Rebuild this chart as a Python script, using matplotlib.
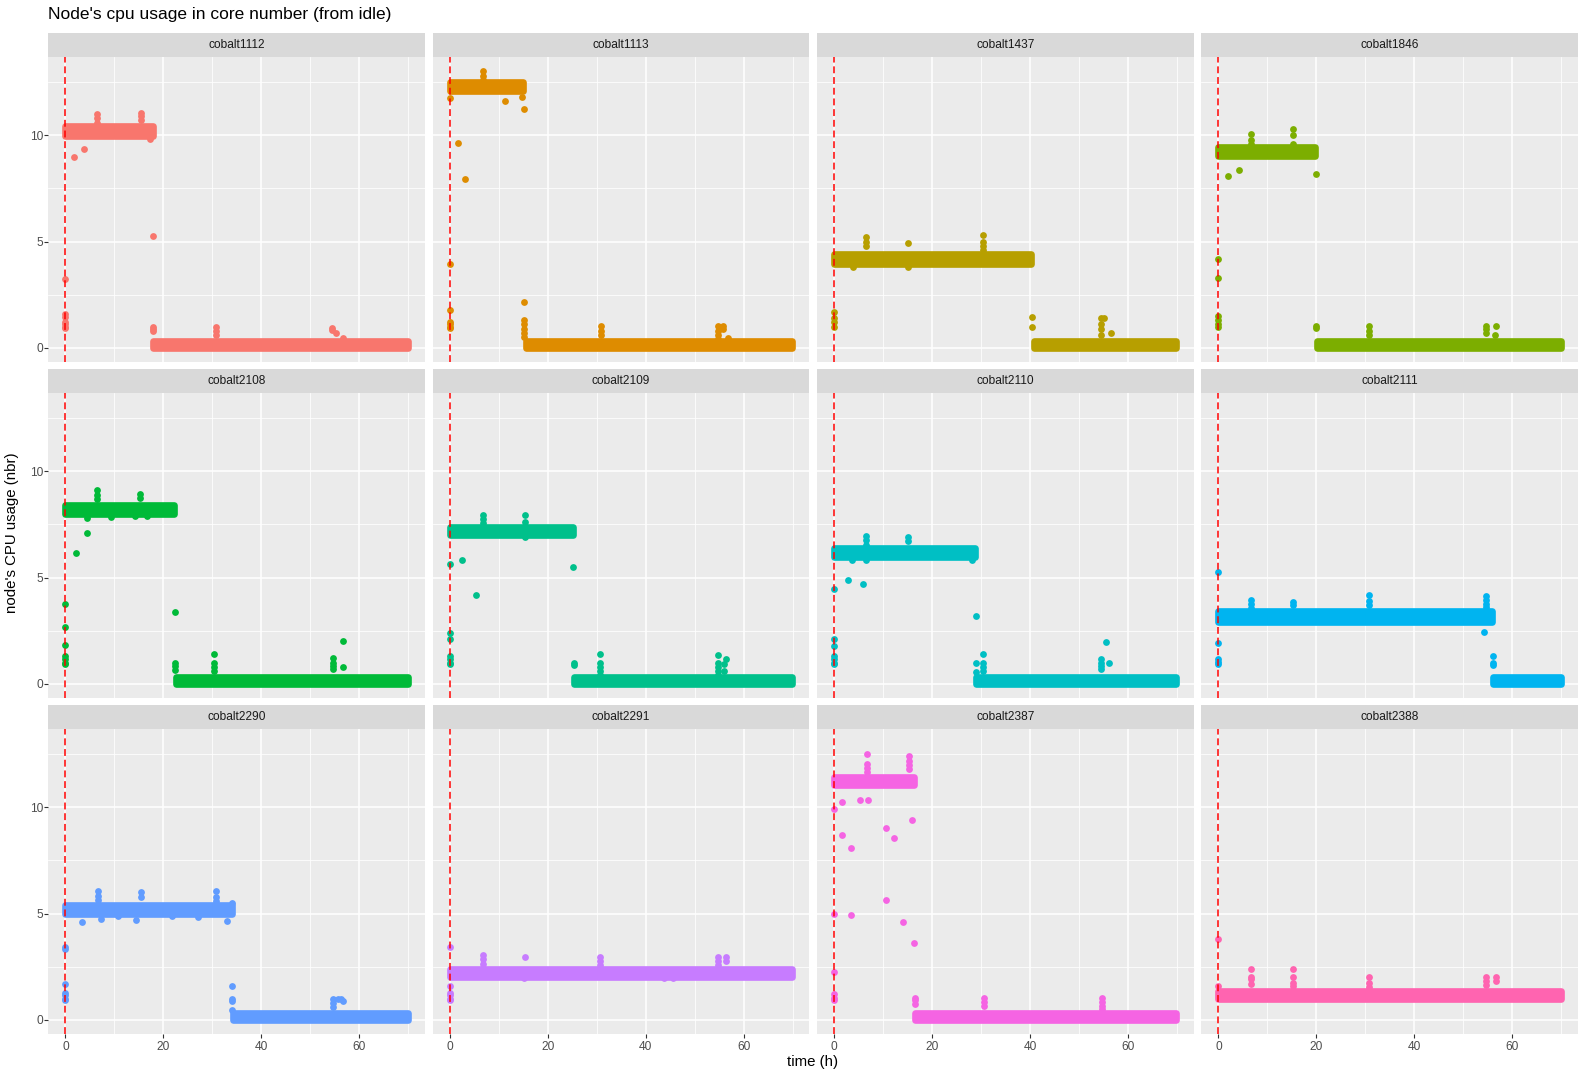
import matplotlib
matplotlib.use("Agg")
import matplotlib.pyplot as plt

# noeuds et couleurs (palette ggplot par défaut, 12 niveaux)
nodes = ["cobalt1112", "cobalt1113", "cobalt1437", "cobalt1846",
         "cobalt2108", "cobalt2109", "cobalt2110", "cobalt2111",
         "cobalt2290", "cobalt2291", "cobalt2387", "cobalt2388"]
colors = ["#F8766D", "#DE8C00", "#B79F00", "#7CAE00", "#00BA38", "#00C08B",
          "#00BFC4", "#00B4F0", "#619CFF", "#C77CFF", "#F564E3", "#FF64B0"]

# bande dense pendant le calcul : début, fin (h), bas, haut (nbr)
busy_start = [0, 0, 0, 0, 0, 0, 0, 0, 0, 0, 0, 0]
busy_end = [17.8, 14.9, 40.2, 19.8, 22.2, 25.2, 28.8, 55.9, 34.0, 69.9, 16.4, 69.9]
busy_low = [9.97, 12.1, 3.96, 9.05, 8.0, 6.99, 5.97, 2.93, 5.0, 2.01, 11.07, 0.99]
busy_high = [10.44, 12.5, 4.42, 9.45, 8.44, 7.37, 6.4, 3.41, 5.4, 2.37, 11.42, 1.35]

# bande dense au repos (None = pas de repos)
idle_start = [17.8, 15.5, 40.8, 20.1, 22.5, 25.3, 29.0, 56.1, 34.3, None, 16.6, None]
idle_end = 69.9
idle_low = 0.0
idle_high = 0.32

# points isolés et pics (temps, cpu)
pts_1112 = [(0, 3.25), (0, 1.6), (0, 1.45), (0, 1.2), (0, 1.1), (0, 1.0), (0, 0.95),
            (1.8, 8.96), (3.8, 9.37), (6.5, 10.6), (6.5, 10.8), (6.5, 11.0),
            (15.5, 10.7), (15.5, 10.9), (15.5, 11.05), (17.2, 9.85), (17.8, 5.27),
            (17.9, 1.0), (17.9, 0.9), (17.9, 0.8), (30.7, 1.0), (30.7, 0.8), (30.7, 0.6),
            (54.5, 0.95), (54.5, 0.85), (55.2, 0.7), (56.6, 0.45)]
pts_1113 = [(0, 3.96), (0, 1.76), (0, 1.2), (0, 1.1), (0, 1.0), (0, 0.94), (0.1, 11.75),
            (1.6, 9.62), (3.2, 7.95), (6.8, 12.6), (6.8, 12.8), (6.8, 13.05),
            (11.3, 11.6), (14.7, 11.8), (15.1, 11.25), (15.1, 2.15), (15.1, 1.3),
            (15.1, 1.1), (15.2, 0.9), (15.2, 0.7), (15.2, 0.5),
            (30.8, 1.05), (30.8, 0.8), (30.8, 0.6), (54.7, 1.05), (54.7, 0.8),
            (54.7, 0.6), (54.7, 0.4), (55.8, 1.05), (55.8, 0.9), (56.8, 0.45)]
pts_1437 = [(0, 1.7), (0, 1.4), (0, 1.2), (0, 1.0), (3.9, 3.8), (6.5, 4.8), (6.5, 5.0),
            (6.5, 5.2), (15.2, 4.95), (15.2, 3.8), (30.5, 4.6), (30.5, 4.8), (30.5, 5.0),
            (30.5, 5.3), (40.5, 1.45), (40.5, 1.0), (54.5, 1.4), (54.5, 1.1), (54.5, 0.9),
            (54.5, 0.6), (55.1, 1.4), (56.6, 0.7)]
pts_1846 = [(0, 4.16), (0, 3.28), (0, 1.5), (0, 1.3), (0, 1.1), (0, 1.0), (2.0, 8.1),
            (4.2, 8.38), (6.7, 9.6), (6.7, 9.8), (6.7, 10.05), (15.3, 9.6), (15.3, 10.0),
            (15.3, 10.3), (19.9, 8.19), (19.9, 1.05), (19.9, 0.95), (30.7, 1.05),
            (30.7, 0.8), (30.7, 0.6), (54.6, 1.05), (54.6, 0.9), (54.6, 0.7),
            (56.4, 0.6), (56.6, 1.05)]
pts_2108 = [(0, 3.78), (0, 2.68), (0, 1.82), (0, 1.3), (0, 1.15), (0, 1.0), (0, 0.95),
            (2.2, 6.17), (4.5, 7.11), (4.5, 7.79), (6.5, 8.7), (6.5, 8.9), (6.5, 9.1),
            (9.3, 7.85), (14.3, 7.9), (15.3, 8.75), (15.3, 8.95), (16.6, 7.9),
            (22.3, 3.36), (22.3, 1.0), (22.3, 0.85), (22.3, 0.64), (30.4, 1.4),
            (30.4, 1.0), (30.4, 0.8), (30.4, 0.6), (54.6, 1.2), (54.6, 1.0),
            (54.6, 0.85), (54.6, 0.7), (56.6, 2.02), (56.6, 0.79)]
pts_2109 = [(0, 5.62), (0, 2.37), (0, 2.1), (0, 1.3), (0, 1.15), (0, 1.0), (0, 0.95),
            (2.6, 5.84), (5.3, 4.17), (6.7, 7.55), (6.7, 7.75), (6.7, 7.95), (15.3, 7.6),
            (15.3, 7.95), (15.3, 6.9), (25.2, 5.51), (25.3, 0.98), (25.3, 0.9),
            (30.7, 1.4), (30.7, 1.0), (30.7, 0.8), (30.7, 0.6), (30.7, 0.4),
            (54.7, 1.34), (54.7, 1.0), (54.7, 0.8), (54.7, 0.6), (54.7, 0.4),
            (56.0, 0.95), (56.0, 0.59), (56.3, 1.15)]
pts_2110 = [(0, 4.46), (0, 2.1), (0, 1.78), (0, 1.3), (0, 1.15), (0, 1.0), (0, 0.95),
            (2.8, 4.91), (3.6, 5.85), (5.9, 4.69), (6.5, 5.85), (6.5, 6.55), (6.5, 6.75),
            (6.5, 6.95), (15.2, 6.7), (15.2, 6.9), (28.1, 5.85), (28.9, 3.18),
            (28.9, 0.98), (28.9, 0.56), (30.5, 1.39), (30.5, 1.0), (30.5, 0.8),
            (30.5, 0.6), (54.5, 1.19), (54.5, 1.0), (54.5, 0.85), (54.5, 0.7),
            (55.6, 1.97), (56.1, 0.98)]
pts_2111 = [(0, 5.25), (0, 1.93), (0, 1.15), (0, 1.05), (0, 0.95), (6.7, 3.55),
            (6.7, 3.75), (6.7, 3.95), (15.3, 3.7), (15.3, 3.85), (30.7, 3.7), (30.7, 3.9),
            (30.7, 4.2), (54.3, 2.42), (54.7, 3.6), (54.7, 3.75), (54.7, 3.95),
            (54.7, 4.15), (56.0, 1.31), (56.0, 0.98), (56.0, 0.9)]
pts_2290 = [(0, 3.44), (0, 3.35), (0, 1.68), (0, 1.25), (0, 1.15), (0, 1.0), (0, 0.95),
            (3.4, 4.6), (6.7, 5.65), (6.7, 5.85), (6.7, 6.05), (7.2, 4.75), (10.7, 4.9),
            (14.4, 4.7), (15.5, 5.8), (15.5, 6.0), (21.8, 4.9), (27.1, 4.85),
            (30.7, 5.6), (30.7, 5.8), (30.7, 6.05), (33.0, 4.67), (34.0, 5.5),
            (34.0, 1.59), (34.0, 0.96), (34.0, 0.9), (34.0, 0.45), (54.7, 0.6),
            (54.7, 0.8), (54.7, 1.0), (55.6, 1.0), (56.2, 1.0), (56.7, 0.9)]
pts_2291 = [(0, 3.44), (0, 1.59), (0, 1.25), (0, 1.15), (0, 1.0), (0, 0.95), (6.7, 2.65),
            (6.7, 2.85), (6.7, 3.05), (15.2, 1.97), (15.4, 2.95), (30.7, 2.6),
            (30.7, 2.75), (30.7, 2.95), (43.8, 1.95), (45.5, 1.95), (54.7, 2.6),
            (54.7, 2.75), (54.7, 2.95), (56.3, 2.75), (56.3, 2.95)]
pts_2387 = [(0, 9.92), (0, 4.99), (0, 2.26), (0, 1.2), (0, 1.05), (0, 0.95), (1.7, 10.25),
            (1.7, 8.71), (3.5, 8.11), (3.5, 4.94), (5.3, 10.36), (6.7, 11.65),
            (6.7, 11.85), (6.7, 12.05), (6.7, 12.5), (7.0, 10.33), (10.6, 9.03),
            (10.6, 5.66), (12.3, 8.56), (14.1, 4.62), (15.3, 11.8), (15.3, 12.0),
            (15.3, 12.2), (15.3, 12.4), (15.9, 9.42), (16.4, 3.62), (16.5, 1.04),
            (16.5, 0.95), (16.5, 0.75), (30.7, 1.01), (30.7, 0.85), (30.7, 0.65),
            (54.7, 1.01), (54.7, 0.85), (54.7, 0.65), (54.7, 0.5)]
pts_2388 = [(0, 3.81), (0, 1.59), (6.7, 1.7), (6.7, 1.9), (6.7, 2.03), (6.7, 2.4),
            (15.3, 1.6), (15.3, 1.75), (15.3, 2.03), (15.3, 2.39), (30.7, 1.55),
            (30.7, 1.75), (30.7, 2.0), (54.7, 1.65), (54.7, 1.85), (54.7, 2.0),
            (56.7, 1.82), (56.7, 2.0)]

points = [pts_1112, pts_1113, pts_1437, pts_1846, pts_2108, pts_2109,
          pts_2110, pts_2111, pts_2290, pts_2291, pts_2387, pts_2388]

plt.rcParams["font.family"] = ["Liberation Sans", "DejaVu Sans"]

W, H = 1581, 1075
fig = plt.figure(figsize=(W / 100, H / 100), dpi=100)

# limites communes (expansion 5% comme ggplot)
xmax = idle_end
ymax = max(max(busy_high), max(y for p in points for _, y in p))
xlim = (-0.05 * xmax, 1.05 * xmax)
ylim = (-0.05 * ymax, 1.05 * ymax)

panel_w, panel_h, strip_h = 376.7, 305, 23.7
for i, node in enumerate(nodes):
    r, c = divmod(i, 4)
    left = 48.3 + c * 384.3
    top = 33 + r * 336

    strip = fig.add_axes([left / W, 1 - (top + strip_h) / H, panel_w / W, strip_h / H])
    strip.set_facecolor("#D9D9D9")
    strip.set_xticks([])
    strip.set_yticks([])
    for s in strip.spines.values():
        s.set_visible(False)
    strip.text(0.5, 0.5, node, ha="center", va="center", fontsize=8.6, color="#1A1A1A",
               transform=strip.transAxes)

    ax = fig.add_axes([left / W, 1 - (top + strip_h + panel_h) / H, panel_w / W, panel_h / H])
    ax.set_facecolor("#EBEBEB")
    for s in ax.spines.values():
        s.set_visible(False)
    ax.set_axisbelow(True)
    ax.set_xticks([0, 20, 40, 60])
    ax.set_xticks([10, 30, 50, 70], minor=True)
    ax.set_yticks([0, 5, 10])
    ax.set_yticks([2.5, 7.5, 12.5], minor=True)
    ax.grid(which="major", color="white", lw=1.1)
    ax.grid(which="minor", color="white", lw=0.55)
    ax.tick_params(which="major", length=2.7, width=0.8, color="#333333",
                   labelcolor="#4D4D4D", labelsize=8.6)
    ax.tick_params(axis="x", pad=2.5)
    ax.tick_params(axis="y", pad=1.2)
    ax.tick_params(which="minor", length=0)
    if r < 2:
        ax.tick_params(axis="x", which="both", bottom=False, labelbottom=False)
    if c > 0:
        ax.tick_params(axis="y", which="both", left=False, labelleft=False)

    col = colors[i]
    ax.fill_between([busy_start[i], busy_end[i]], busy_low[i], busy_high[i],
                    color=col, lw=4.8, joinstyle="round", zorder=2.5)
    if idle_start[i] is not None:
        ax.fill_between([idle_start[i], idle_end], idle_low, idle_high,
                        color=col, lw=4.8, joinstyle="round", zorder=2.5)
    px = [p[0] for p in points[i]]
    py = [p[1] for p in points[i]]
    ax.scatter(px, py, s=24, c=col, linewidths=0, zorder=3)

    ax.axvline(0, color="red", lw=1.1, ls=(0, (4.5, 2.5)), zorder=4)
    ax.set_xlim(xlim)
    ax.set_ylim(ylim)

fig.text(48 / W, 1 - 14 / H, "Node's cpu usage in core number (from idle)",
         ha="left", va="center", fontsize=12.5)
fig.text(812.6 / W, 1 - 1062 / H, "time (h)", ha="center", va="center", fontsize=10.8)
fig.text(12 / W, 1 - 533 / H, "node's CPU usage (nbr)", ha="center", va="center",
         rotation=90, fontsize=10.8)

fig.savefig("out.png", dpi=100)
